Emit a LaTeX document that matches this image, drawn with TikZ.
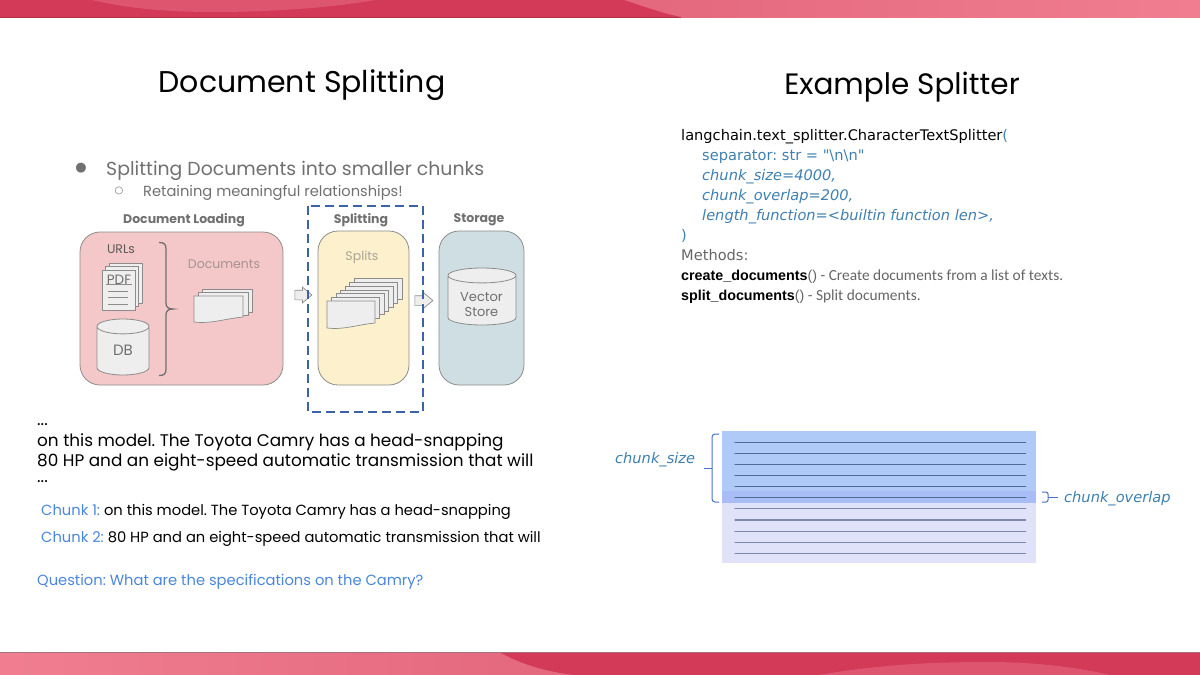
\documentclass[tikz,border=0pt]{standalone}
\usepackage{fontspec}
\setmainfont{Poppins}
\newfontfamily\codefont{DejaVu Sans}
\newfontfamily\arialfont{Liberation Sans}
\newfontfamily\bodyfont{Carlito}
\usetikzlibrary{shapes.geometric, shapes.arrows}
\definecolor{barred}{HTML}{D23A58}
\definecolor{barlobe}{HTML}{DE5570}
\definecolor{barlight}{HTML}{E3667C}
\definecolor{barpale}{HTML}{F07E91}
\definecolor{loadfill}{HTML}{F4C8C8}
\definecolor{splitfill}{HTML}{FDF0CC}
\definecolor{storefill}{HTML}{CFDEE2}
\definecolor{boxline}{HTML}{8C8C8C}
\definecolor{pagefill}{HTML}{EEEEEE}
\definecolor{headgray}{HTML}{707070}
\definecolor{dashblue}{HTML}{3C62A8}
\definecolor{chunkblue}{HTML}{4A86DC}
\definecolor{codeblue}{HTML}{3F7FAE}
\definecolor{sizefill}{HTML}{B0CAF8}
\definecolor{overlapfill}{HTML}{A8BCF5}
\definecolor{restfill}{HTML}{E0E2FA}
\definecolor{bracecol}{HTML}{4A72C8}
\definecolor{ruletop}{HTML}{4F6C96}
\definecolor{rulerest}{HTML}{7F88A8}
\tikzset{
    stagebox/.style={draw=boxline, line width=0.8pt, rounded corners=20pt},
    stagehead/.style={font=\fontsize{12.5}{15}\selectfont\bfseries, text=headgray, inner sep=0pt},
    stagetext/.style={font=\fontsize{12.5}{15}\selectfont, text=#1, inner sep=0pt},
    page/.style={draw=boxline, line width=0.7pt, fill=pagefill},
    store/.style={cylinder, shape border rotate=90, anchor=shape center, draw=boxline, line width=0.8pt, aspect=2.4, fill=pagefill, inner sep=0pt},
    storetext/.style={inner sep=0pt, text=headgray, align=center},
    blockarrow/.style={single arrow, draw=boxline, line width=0.7pt, fill=pagefill, inner sep=4.5pt, single arrow head extend=3pt, single arrow tip angle=80},
    textline/.style={anchor=base west, inner sep=0pt},
    codeline/.style={textline, font=\codefont\fontsize{14.6}{16}\selectfont, text=codeblue},
    ruled/.style={line width=1.1pt, line cap=round},
    brace/.style={draw=bracecol, line width=1pt}
}
\newcommand{\DocPage}[4]{\draw[page, shift={(#1,#2)}] (0,0) -- (#3,0) -- (#3,#4-5) .. controls (#3*0.6,#4-3) and (#3*0.35,#4+2) .. (0,#4) -- cycle;}
\begin{document}
\frenchspacing
\begin{tikzpicture}[x=1pt, y=-1pt]
    \useasboundingbox (0,0) rectangle (1200,675);
    % top and bottom bars
    \shade[left color=barlight, right color=barpale] (600,0) rectangle (1200,17);
    \fill[barred] (0,0) -- (624,0) .. controls (645,7) and (665,14) .. (681,17) -- (0,17) -- cycle;
    \fill[barlobe] (92,0) .. controls (130,9) and (170,12) .. (214,12) .. controls (270,12) and (330,8) .. (375,0) -- cycle;
    \draw[barred!85!black, line width=0.6pt] (0,17) -- (681,17);
    \shade[left color=barpale, right color=barlight] (0,653) rectangle (600,675);
    \fill[barred] (1200,653) -- (501,653) .. controls (525,666) and (550,672) .. (574,675) -- (1200,675) -- cycle;
    \fill[barlobe] (819,675) .. controls (880,664) and (940,662) .. (987,662) .. controls (1040,662) and (1080,668) .. (1110,675) -- cycle;
    \draw[boxline!70!barred, line width=0.6pt] (0,652.6) -- (1200,652.6);

    % titles
    \node[font=\fontsize{30}{36}\selectfont, inner sep=0pt] (titleleft) at (302,85) {Document Splitting};
    \node[font=\fontsize{29.5}{36}\selectfont, inner sep=0pt] (titleright) at (902,87) {Example Splitter};

    % bullets
    \node[text=headgray, inner sep=0pt, font=\codefont\fontsize{13}{15}\selectfont] (bulletone) at (81,168) {●};
    \node[textline, text=headgray, font=\fontsize{18.85}{23}\selectfont] (pointone) at (106,175) {Splitting Documents into smaller chunks};
    \node[text=headgray, inner sep=0pt, font=\codefont\fontsize{10}{11}\selectfont] (bullettwo) at (119,191) {○};
    \node[textline, text=headgray, font=\fontsize{14.66}{18}\selectfont] (pointtwo) at (143,196) {Retaining meaningful relationships!};

    % document loading
    \node[stagehead] (loadhead) at (184,220) {Document Loading};
    \draw[stagebox, fill=loadfill] (80,232) rectangle (283,385);
    \node[stagetext=headgray!80!black] (urls) at (121,249) {URLs};
    \draw[page] (109,263) rectangle (142,303);
    \draw[page] (105.5,266.5) rectangle (138.5,306.5);
    \draw[page] (102,270) rectangle (135,310);
    \node[font=\fontsize{13.5}{15}\selectfont, text=headgray, inner sep=0pt] (pdf) at (119,279.5) {PDF};
    \draw[boxline, line width=0.6pt] (106,284) -- (132,284);
    \foreach \y in {291,297,304}
        \draw[boxline, line width=0.6pt] (108,\y) -- (128,\y);
    \node[store, minimum width=52, minimum height=56] (db) at (123,347) {\phantom{X}};
    \node[storetext, font=\fontsize{15}{17}\selectfont] (dblabel) at (123,350) {DB};
    \draw[headgray, line width=1.3pt] (159,242.5) .. controls (164,242.5) and (166,244) .. (166,249) -- (166,303) .. controls (166,307) and (168,309) .. (173,309) .. controls (168,309) and (166,311) .. (166,315) -- (166,369) .. controls (166,374) and (164,375.5) .. (159,375.5);
    \node[stagetext=headgray!60!loadfill] (documents) at (224,264) {Documents};
    \draw[page] (202,289) rectangle (252,312);
    \draw[page] (198,292.5) rectangle (248,315.5);
    \DocPage{194}{296}{49}{26}

    % splitting
    \node[blockarrow, minimum height=17] (arrowin) at (300.5,295) {};
    \node[stagehead] (splithead) at (361,220) {Splitting};
    \draw[stagebox, fill=splitfill] (318,231) rectangle (409,385);
    \node[blockarrow, minimum height=18] (arrowout) at (421,300.5) {};
    \draw[dashblue, line width=1.8pt, dash pattern=on 9pt off 5pt] (308,206) rectangle (423,412);
    \node[stagetext=headgray!60!splitfill] (splits) at (362,257.5) {Splits};
    \foreach \s in {6,5,4,3,2,1}
        \draw[page] (327+4.5*\s,301-3.7*\s) rectangle ++(48,21);
    \DocPage{327}{301}{48}{27}

    % storage
    \node[stagehead] (storehead) at (479,220) {Storage};
    \draw[stagebox, fill=storefill] (439,231) rectangle (524,385);
    \node[store, minimum width=68, minimum height=57] (vector) at (482,296.5) {\phantom{X}};
    \node[storetext, font=\fontsize{13}{15.5}\selectfont] (vectorlabel) at (481.5,304.5) {Vector\\Store};

    % toyota text
    \node[textline, font=\fontsize{16.85}{20}\selectfont] (dotstop) at (37,425) {...};
    \node[textline, font=\fontsize{16.85}{20}\selectfont] (lineone) at (37,446) {on this model. The Toyota Camry has a head-snapping};
    \node[textline, font=\fontsize{16.85}{20}\selectfont] (linetwo) at (37,466) {80 HP and an eight-speed automatic transmission that will};
    \node[textline, font=\fontsize{16.85}{20}\selectfont] (dotsbottom) at (37,482) {...};
    \node[textline, font=\fontsize{14.7}{18}\selectfont] (chunkone) at (41,515) {\textcolor{chunkblue}{Chunk 1:} on this model. The Toyota Camry has a head-snapping};
    \node[textline, font=\fontsize{14.7}{18}\selectfont] (chunktwo) at (41,542) {\textcolor{chunkblue}{Chunk 2:} 80 HP and an eight-speed automatic transmission that will};
    \node[textline, text=chunkblue, font=\fontsize{14.7}{18}\selectfont] (question) at (37,585) {Question: What are the specifications on the Camry?};

    % code listing
    \node[textline, font=\codefont\fontsize{14.6}{16}\selectfont] (classname) at (681,140) {langchain.text\_splitter.CharacterTextSplitter\textcolor{codeblue}{(}};
    \node[codeline] (separator) at (702,160) {separator: str = "\textbackslash n\textbackslash n"};
    \node[codeline, font=\codefont\itshape\fontsize{14.6}{16}\selectfont] (chunksize) at (702,180) {chunk\_size=4000,};
    \node[codeline, font=\codefont\itshape\fontsize{14.6}{16}\selectfont] (chunkover) at (702,200) {chunk\_overlap=200,};
    \node[codeline, font=\codefont\itshape\fontsize{14.6}{16}\selectfont] (lengthfn) at (702,220) {length\_function=<builtin function len>,};
    \node[codeline] (closeparen) at (681,240) {)};
    \node[codeline, text=headgray!90!black] (methods) at (681,260) {Methods:};
    \node[textline, font=\bodyfont\fontsize{15.4}{18}\selectfont, text=headgray!90!black] (create) at (681,280) {{\arialfont\fontsize{14.3}{18}\selectfont\textcolor{black}{\textbf{create\_documents}}()} - Create documents from a list of texts.};
    \node[textline, font=\bodyfont\fontsize{15.4}{18}\selectfont, text=headgray!90!black] (split) at (681,300) {{\arialfont\fontsize{14.3}{18}\selectfont\textcolor{black}{\textbf{split\_documents}}()} - Split documents.};

    % chunk figure
    \fill[restfill] (722,503) rectangle (1035.5,563);
    \fill[sizefill] (722,431) rectangle (1035.5,491);
    \fill[overlapfill] (722,491) rectangle (1035.5,503);
    \foreach \i in {0,...,5}
        \draw[ruled, draw=ruletop] (735,442.3+11.1*\i) -- (1025.5,442.3+11.1*\i);
    \foreach \i in {6,...,10}
        \draw[ruled, draw=rulerest] (735,442.3+11.1*\i) -- (1025.5,442.3+11.1*\i);
    \draw[brace, rounded corners=3pt] (719,434) -- (712,434) -- (712,502) -- (719,502);
    \draw[brace] (704,468) -- (712,468);
    \draw[brace, rounded corners=2pt] (1042,492) -- (1048,492) -- (1048,502) -- (1042,502);
    \draw[brace] (1048,497) -- (1058,497);
    \node[textline, text=codeblue, font=\codefont\itshape\fontsize{14.6}{16}\selectfont] (sizelabel) at (615,463) {chunk\_size};
    \node[textline, text=codeblue, font=\codefont\itshape\fontsize{14.6}{16}\selectfont] (overlaplabel) at (1064,502) {chunk\_overlap};
\end{tikzpicture}
\end{document}
